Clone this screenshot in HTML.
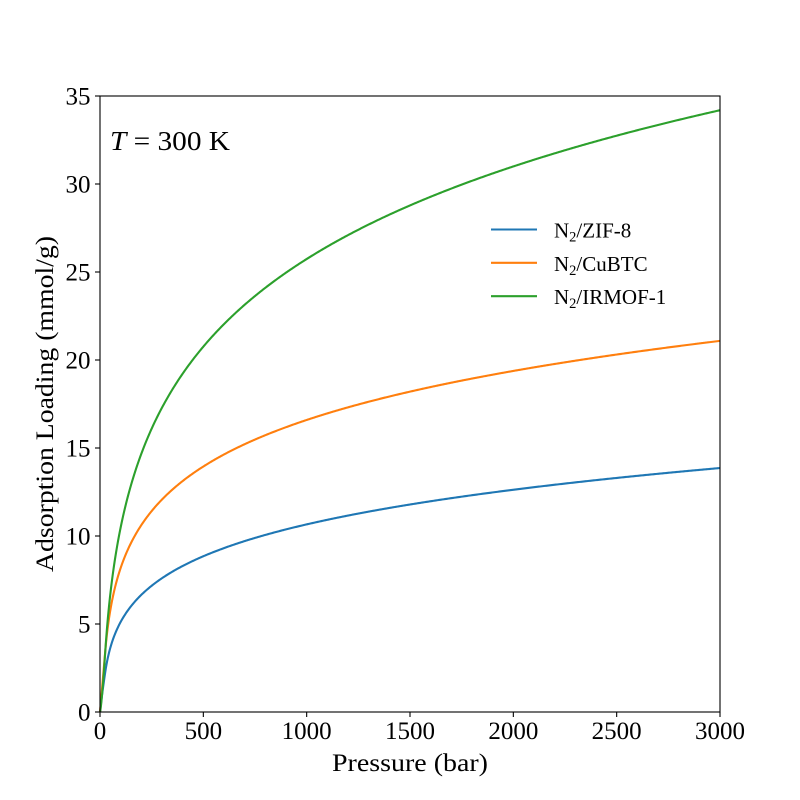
<!DOCTYPE html>
<html>
<head>
<meta charset="utf-8">
<style>
  html,body{margin:0;padding:0;background:#fff;}
  svg{display:block;}
  text{font-family:"Liberation Serif","DejaVu Serif",serif;fill:#000;}
</style>
</head>
<body>
<svg id="chart" width="800" height="800" viewBox="0 0 800 800" xmlns="http://www.w3.org/2000/svg">
  <rect x="0" y="0" width="800" height="800" fill="#fff"/>

  <!-- curves -->
  <g fill="none" stroke-width="2.1" stroke-linejoin="round" stroke-linecap="butt">
    <path id="cb" stroke="#1f77b4" d=""/>
    <path id="co" stroke="#ff7f0e" d=""/>
    <path id="cg" stroke="#2ca02c" d=""/>
  </g>

  <!-- axes frame -->
  <rect x="100" y="96" width="620" height="616" fill="none" stroke="#000" stroke-width="1.1"/>

  <!-- x ticks -->
  <g stroke="#000" stroke-width="1.1">
    <line x1="100" y1="712" x2="100" y2="717"/>
    <line x1="203.33" y1="712" x2="203.33" y2="717"/>
    <line x1="306.67" y1="712" x2="306.67" y2="717"/>
    <line x1="410" y1="712" x2="410" y2="717"/>
    <line x1="513.33" y1="712" x2="513.33" y2="717"/>
    <line x1="616.67" y1="712" x2="616.67" y2="717"/>
    <line x1="720" y1="712" x2="720" y2="717"/>
  </g>
  <g font-size="25" text-anchor="middle">
    <text x="100" y="739">0</text>
    <text x="203.33" y="739">500</text>
    <text x="306.67" y="739">1000</text>
    <text x="410" y="739">1500</text>
    <text x="513.33" y="739">2000</text>
    <text x="616.67" y="739">2500</text>
    <text x="720" y="739">3000</text>
  </g>

  <!-- y ticks -->
  <g stroke="#000" stroke-width="1.1">
    <line x1="95" y1="712" x2="100" y2="712"/>
    <line x1="95" y1="624" x2="100" y2="624"/>
    <line x1="95" y1="536" x2="100" y2="536"/>
    <line x1="95" y1="448" x2="100" y2="448"/>
    <line x1="95" y1="360" x2="100" y2="360"/>
    <line x1="95" y1="272" x2="100" y2="272"/>
    <line x1="95" y1="184" x2="100" y2="184"/>
    <line x1="95" y1="96" x2="100" y2="96"/>
  </g>
  <g font-size="25" text-anchor="end">
    <text x="90.5" y="720.4">0</text>
    <text x="90.5" y="632.4">5</text>
    <text x="90.5" y="544.4">10</text>
    <text x="90.5" y="456.4">15</text>
    <text x="90.5" y="368.4">20</text>
    <text x="90.5" y="280.4">25</text>
    <text x="90.5" y="192.4">30</text>
    <text x="90.5" y="104.4">35</text>
  </g>

  <!-- axis labels -->
  <text x="410" y="771" font-size="25" text-anchor="middle" textLength="156" lengthAdjust="spacingAndGlyphs">Pressure (bar)</text>
  <text transform="translate(53,404) rotate(-90)" x="0" y="0" font-size="25" text-anchor="middle" textLength="336" lengthAdjust="spacingAndGlyphs">Adsorption Loading (mmol/g)</text>

  <!-- annotation -->
  <text x="110" y="150" font-size="27" textLength="120" lengthAdjust="spacingAndGlyphs"><tspan font-style="italic">T</tspan> = 300 K</text>

  <!-- legend -->
  <g stroke-width="2.1">
    <line x1="491" y1="229.5" x2="537" y2="229.5" stroke="#1f77b4"/>
    <line x1="491" y1="262.8" x2="537" y2="262.8" stroke="#ff7f0e"/>
    <line x1="491" y1="296.2" x2="537" y2="296.2" stroke="#2ca02c"/>
  </g>
  <g font-size="21">
    <text x="554" y="237.5">N<tspan font-size="14.5" dy="4">2</tspan><tspan dy="-4">/ZIF-8</tspan></text>
    <text x="554" y="270.8">N<tspan font-size="14.5" dy="4">2</tspan><tspan dy="-4">/CuBTC</tspan></text>
    <text x="554" y="304.2">N<tspan font-size="14.5" dy="4">2</tspan><tspan dy="-4">/IRMOF-1</tspan></text>
  </g>
</svg>

<script>
(function(){
  var blue=[[100.6,712.3],[101.5,703],[102.5,694],[103.5,686],[105.3,673],[107.7,658],[111,644],[116,630.5],[122.7,618.5],[129.3,610],[139.3,598.5],[149.3,588.5],[162.7,576.7],[179.3,566.7],[196,559],[230,546.5],[280,530],[330,518.3],[380,509.3],[430,501.7],[480,495],[553.3,486.7],[636.7,476.7],[720,467.7]];
  var orange=[[100.6,712.3],[101.6,695],[102.7,679],[104.7,656],[106.5,639],[108.5,623],[111.5,605],[114.5,591],[118.5,575],[122.7,561],[129.3,544],[138.5,527],[152,510],[168.5,494],[195.5,474],[230,453],[280,430],[330,411.7],[380,397.7],[430,386],[480,376.7],[553.3,365.5],[636.7,352.9],[720,340.7]];
  var green=[[100.6,712.3],[102,693],[104.5,661],[106.7,634],[108.7,612],[111,588],[114,564],[118,542],[124.7,510],[134.7,470],[146,440.5],[156,420],[175,386],[195,356.7],[230,320],[280,276.7],[330,243.3],[380,216.7],[430,196.7],[480,180],[553.3,158],[636.7,133.3],[720,109.3]];

  var SX=620/3000, SY=17.6, X0=100, Y0=712;

  function poly(p){
    var d="M"+p[0][0]+","+p[0][1];
    for(var i=1;i<p.length;i++) d+=" L"+p[i][0]+","+p[i][1];
    return d;
  }
  function solve(A,b){
    var n=b.length,i,j,k;
    for(i=0;i<n;i++){
      var mx=i;
      for(k=i+1;k<n;k++) if(Math.abs(A[k][i])>Math.abs(A[mx][i])) mx=k;
      var t=A[i];A[i]=A[mx];A[mx]=t; var tb=b[i];b[i]=b[mx];b[mx]=tb;
      for(k=i+1;k<n;k++){
        var f=A[k][i]/A[i][i];
        for(j=i;j<n;j++) A[k][j]-=f*A[i][j];
        b[k]-=f*b[i];
      }
    }
    var x=new Array(n);
    for(i=n-1;i>=0;i--){
      var s=b[i];
      for(j=i+1;j<n;j++) s-=A[i][j]*x[j];
      x[i]=s/A[i][i];
    }
    return x;
  }
  function smooth(pts){
    var D=4,M=[],v=[],i,j,k;
    for(i=0;i<D;i++){M.push([0,0,0,0]);v.push(0);}
    for(k=0;k<pts.length;k++){
      var p=pts[k]; if(p[0]<103) continue;
      var w=(k===pts.length-1)?6:1;
      var P=(p[0]-X0)/SX, q=(Y0-p[1])/SY, u=Math.log(P)-6;
      var pw=[1,u,u*u,u*u*u];
      for(i=0;i<D;i++){ v[i]+=w*pw[i]*q; for(j=0;j<D;j++) M[i][j]+=w*pw[i]*pw[j]; }
    }
    var c=solve(M,v);
    function qf(P){var u=Math.log(P)-6;return c[0]+c[1]*u+c[2]*u*u+c[3]*u*u*u;}
    function dq(P){var u=Math.log(P)-6;return c[1]+2*c[2]*u+3*c[3]*u*u;}
    var P1=25, q1=qf(P1), a=dq(P1)/q1;
    if(!(a>0.2&&a<1.5)) a=0.7;
    var out=[];
    for(k=0;k<=40;k++){
      var P=P1*(k/40)*(k/40);
      var q=(P<=0)?0:q1*Math.pow(P/P1,a);
      out.push([X0+P*SX, Y0-q*SY]);
    }
    var xs=X0+P1*SX;
    for(var x=Math.ceil(xs);x<=720;x+=1){
      var P2=(x-X0)/SX;
      out.push([x, Y0-qf(P2)*SY]);
    }
    var d="M"+out[0][0].toFixed(2)+","+out[0][1].toFixed(2);
    for(k=1;k<out.length;k++) d+=" L"+out[k][0].toFixed(2)+","+out[k][1].toFixed(2);
    return d;
  }
  var sets=[["cb",blue],["co",orange],["cg",green]];
  for(var s=0;s<sets.length;s++){
    var el=document.getElementById(sets[s][0]);
    el.setAttribute("d",poly(sets[s][1]));
    try{ var d=smooth(sets[s][1]); if(d.indexOf("NaN")<0) el.setAttribute("d",d); }catch(e){}
  }
})();
</script>
</body>
</html>
